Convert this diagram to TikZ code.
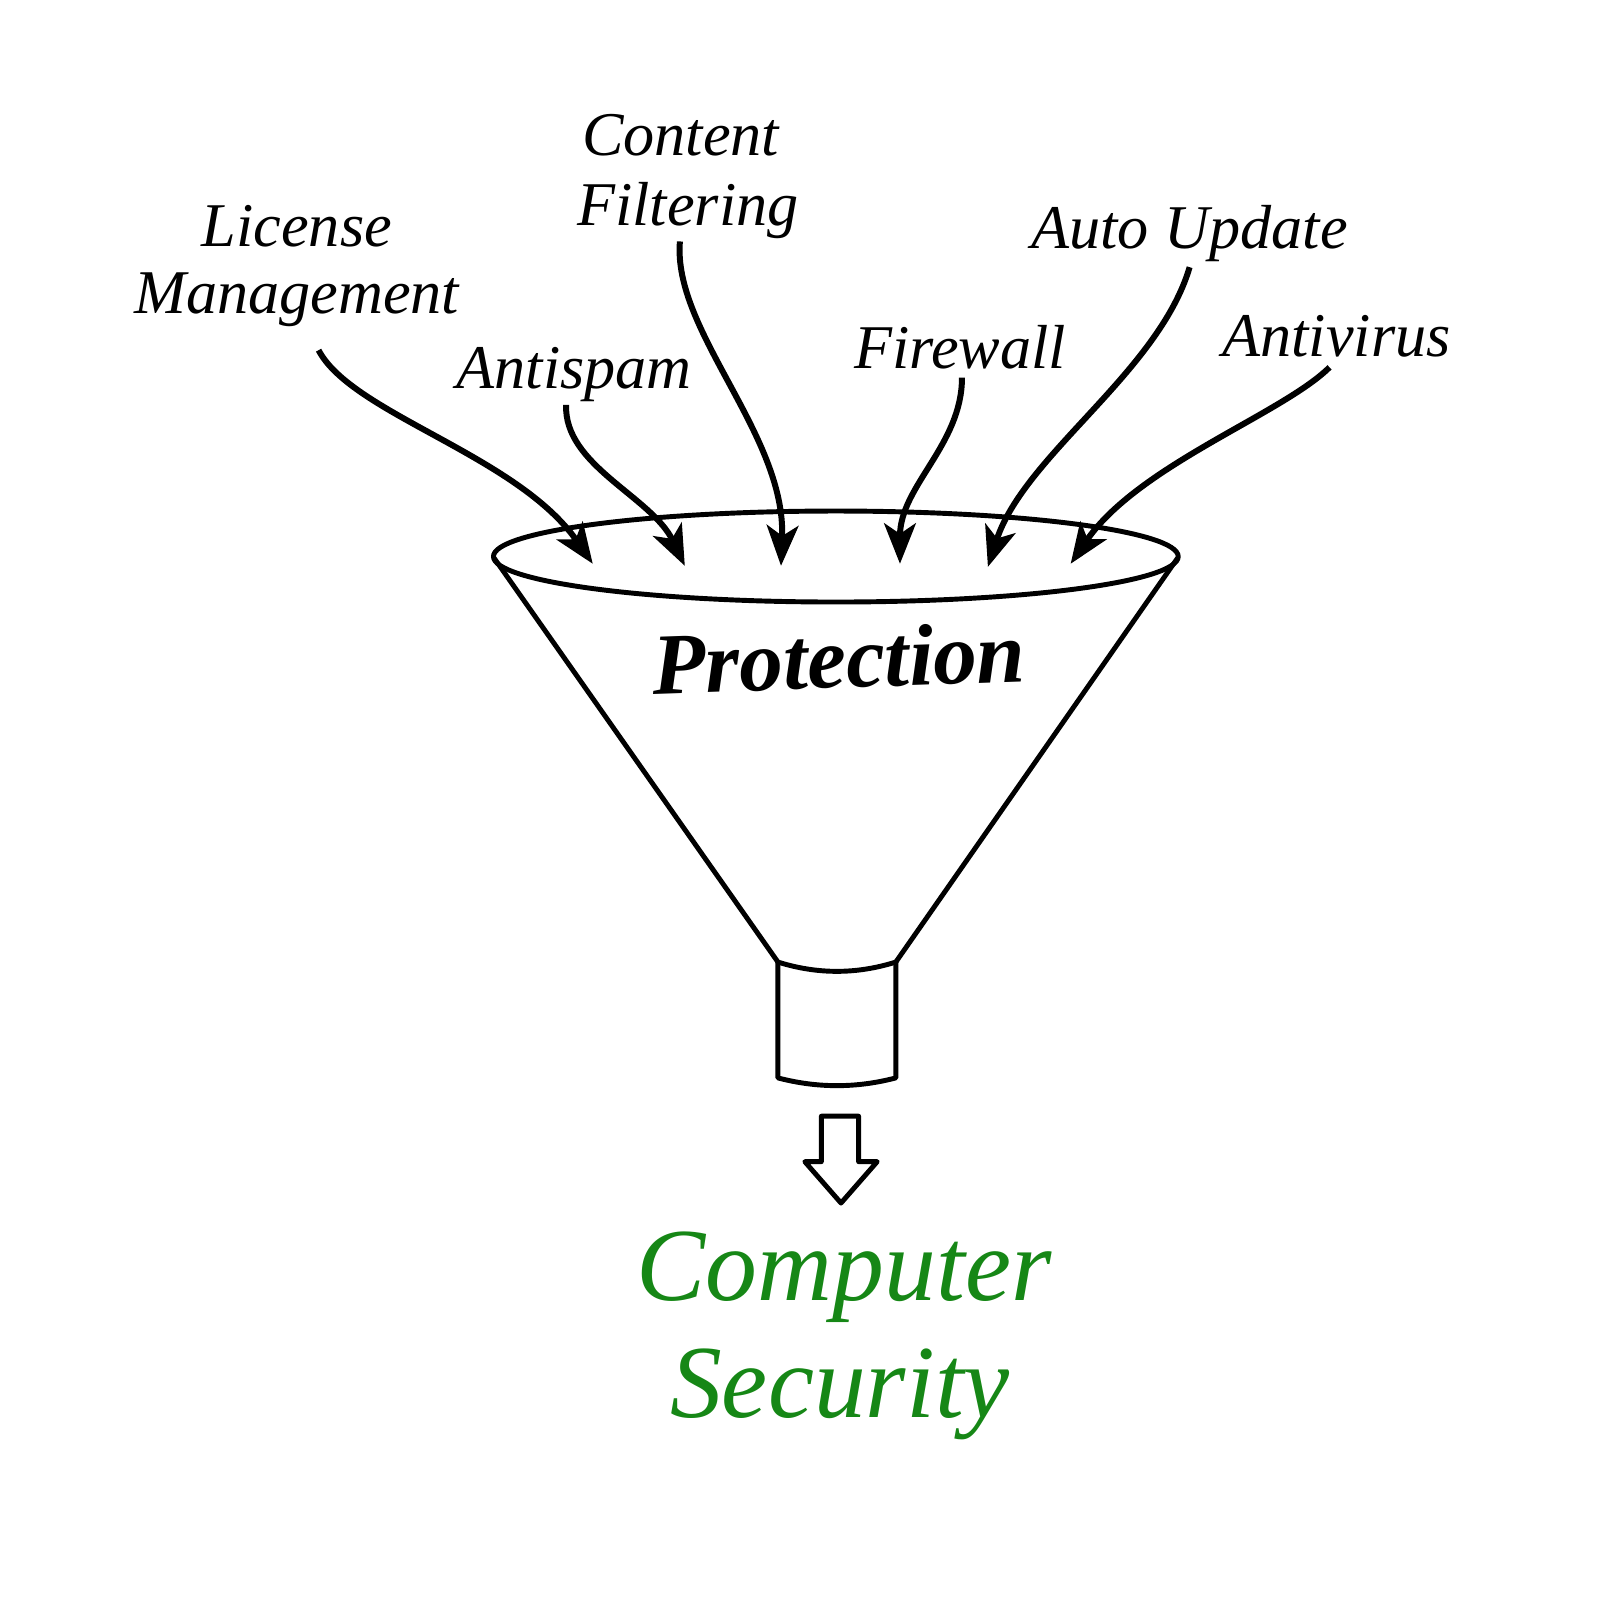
\documentclass[tikz,border=0pt]{standalone}
\usepackage{fontspec}
\setmainfont{Liberation Serif}
\usetikzlibrary{arrows.meta}
\definecolor{secgreen}{RGB}{22,135,22}

\begin{document}
\begin{tikzpicture}[x=0.010343cm,y=-0.010343cm,
lbl/.style={inner sep=0pt,anchor=base,font=\fontsize{17.7}{20}\selectfont\itshape},
feed/.style={line width=1.7pt,-{Stealth[length=11.5pt,width=9pt,inset=3pt]}},
funnel/.style={line width=1.4pt,line join=round,line cap=round}]
\useasboundingbox (0,0) rectangle (1547,1568);

\node (lic) [lbl] at (287,238) {License};
\node (mgmt) [lbl] at (287,303) {Management};
\node (cont) [lbl] at (658,150) {Content};
\node (filt) [lbl] at (665,218) {Filtering};
\node (spam) [lbl] at (555,376) {Antispam};
\node (fire) [lbl] at (928,356) {Firewall};
\node (auto) [lbl] at (1150,240) {Auto Update};
\node (avir) [lbl] at (1292,345) {Antivirus};

\coordinate (inLic) at (573,545);
\coordinate (inSpam) at (662,547);
\coordinate (inFilt) at (755,547);
\coordinate (inFire) at (870,545);
\coordinate (inAuto) at (955,548);
\coordinate (inAvir) at (1035,545);

\draw [feed] ([xshift=0.217cm,yshift=-0.228cm]mgmt.south) .. controls (340,400) and (500,440) .. (inLic);
\draw [feed] ([xshift=-0.08cm,yshift=-0.02cm]spam.south) .. controls (545,450) and (630,480) .. (inSpam);
\draw [feed] ([xshift=-0.08cm,yshift=-0.02cm]filt.south) .. controls (650,320) and (760,420) .. (inFilt);
\draw [feed] ([xshift=0.02cm,yshift=-0.08cm]fire.south) .. controls (930,430) and (870,470) .. (inFire);
\draw [feed] ([yshift=-0.05cm]auto.south) .. controls (1120,360) and (990,440) .. (inAuto);
\draw [feed] ([xshift=-0.07cm,yshift=-0.09cm]avir.south) .. controls (1240,400) and (1100,450) .. (inAvir);

\draw [funnel] (808,538) ellipse [x radius=3.424cm, y radius=0.455cm];
\draw [funnel] (478,540) -- (752,930);
\draw [funnel] (1138,540) -- (866,930);
\draw [funnel] (752,930) .. controls (790,942) and (828,942) .. (866,930);
\draw [funnel] (752,930) -- (752,1042) .. controls (790,1052) and (828,1052) .. (866,1042) -- (866,930);

\node (prot) [rotate=2,anchor=base,inner sep=0pt,font=\fontsize{24.8}{28}\selectfont\bfseries\itshape] at (812,665) {Protection};

\draw [funnel] (794,1079) -- (830,1079) -- (830,1123) -- (848,1123) -- (813,1163) -- (778,1123) -- (794,1123) -- cycle;

\node (comp) [anchor=base,inner sep=0pt,text=secgreen,font=\fontsize{29.5}{34}\selectfont\itshape] at (816,1257) {Computer};
\node (secu) [anchor=base,inner sep=0pt,text=secgreen,font=\fontsize{29.5}{34}\selectfont\itshape] at (812,1370) {Security};
\end{tikzpicture}
\end{document}
